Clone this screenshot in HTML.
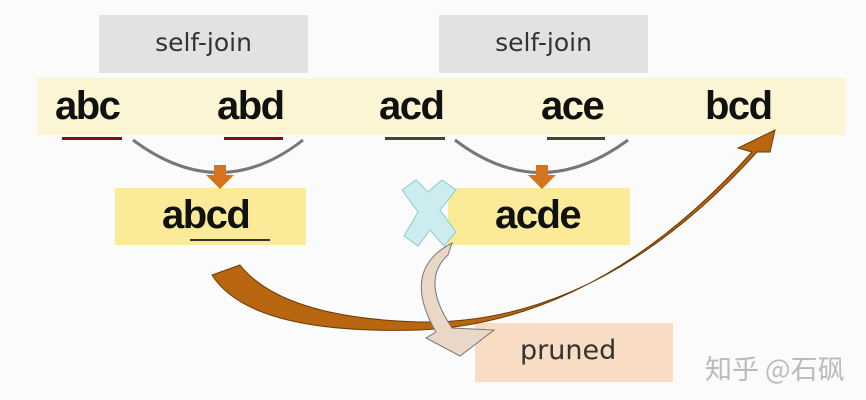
<!DOCTYPE html>
<html><head><meta charset="utf-8"><style>
body{margin:0;width:866px;height:400px;background:#fbfbfb;overflow:hidden;position:relative;font-family:"DejaVu Sans","Liberation Sans",sans-serif}
.b{position:absolute}
.t{position:absolute;font-weight:bold;font-size:40px;color:#111;letter-spacing:-1.5px;font-family:"Liberation Sans",sans-serif}
</style></head><body>
<div class="b" style="left:99px;top:15px;width:209px;height:58px;background:#e2e2e0"></div>
<div class="b" style="left:439px;top:15px;width:209px;height:58px;background:#e2e2e0"></div>
<div class="b" style="left:99px;top:28px;width:209px;text-align:center;font-size:25px;color:#333">self-join</div>
<div class="b" style="left:439px;top:28px;width:209px;text-align:center;font-size:25px;color:#333">self-join</div>
<div class="b" style="left:37px;top:78px;width:808px;height:57px;background:#fbf5d3"></div>
<div class="b" style="left:115px;top:188px;width:191px;height:57px;background:#fbeb98"></div>
<div class="b" style="left:448px;top:188px;width:182px;height:57px;background:#fbeb98"></div>
<div class="b" style="left:475px;top:323px;width:198px;height:59px;background:#f8dcc4"></div>
<div class="t" style="left:55px;top:84px">abc</div>
<div class="t" style="left:217px;top:84px">abd</div>
<div class="t" style="left:379px;top:84px">acd</div>
<div class="t" style="left:541px;top:84px">ace</div>
<div class="t" style="left:705px;top:84px">bcd</div>
<div class="t" style="left:162px;top:193px">abcd</div>
<div class="t" style="left:495px;top:193px">acde</div>
<div class="b" style="left:520px;top:335px;font-size:27px;color:#333">pruned</div>
<div class="b" style="left:62px;top:137px;width:60px;height:3px;background:#7a1010"></div>
<div class="b" style="left:224px;top:137px;width:59px;height:3px;background:#7a1010"></div>
<div class="b" style="left:385px;top:137px;width:60px;height:3px;background:#3f4a22"></div>
<div class="b" style="left:547px;top:137px;width:58px;height:3px;background:#3f4a22"></div>
<div class="b" style="left:190px;top:239px;width:80px;height:2px;background:#333"></div>
<svg class="b" style="left:0;top:0" width="866" height="400">
<path d="M133,140 Q220,205 303,140" fill="none" stroke="#777" stroke-width="3"/>
<path d="M455,140 Q540,205 628,140" fill="none" stroke="#777" stroke-width="3"/>
<path d="M214,165h12v10h8l-14,14l-14,-14h8z" fill="#d5741e"/>
<path d="M536,165h12v10h8l-14,14l-14,-14h8z" fill="#d5741e"/>
<path d="M402,190l14,-10l12,12l14,-12l14,10l-16,20l16,22l-12,14l-14,-16l-12,16l-14,-10l14,-24z" fill="#cdecef" stroke="#8cc" stroke-width="1"/>
<path d="M212,275 Q250,335 420,330 Q600,322 752,152 L738,148 L775,130 L770,152 L757,152 Q600,325 420,322 Q282,318 240,265 z" fill="#b8660f" stroke="#6a3a08" stroke-width="1"/>
<path d="M452,243 Q400,270 436,332 L426,338 L460,356 L494,330 L452,328 Q420,280 448,255 z" fill="#e9d7c8" stroke="#777" stroke-width="1"/>
</svg>
<div class="b" style="left:705px;top:348px;font-size:27px;color:#bbb;font-family:'Noto Sans CJK SC',sans-serif">知乎 @石砜</div>
</body></html>
